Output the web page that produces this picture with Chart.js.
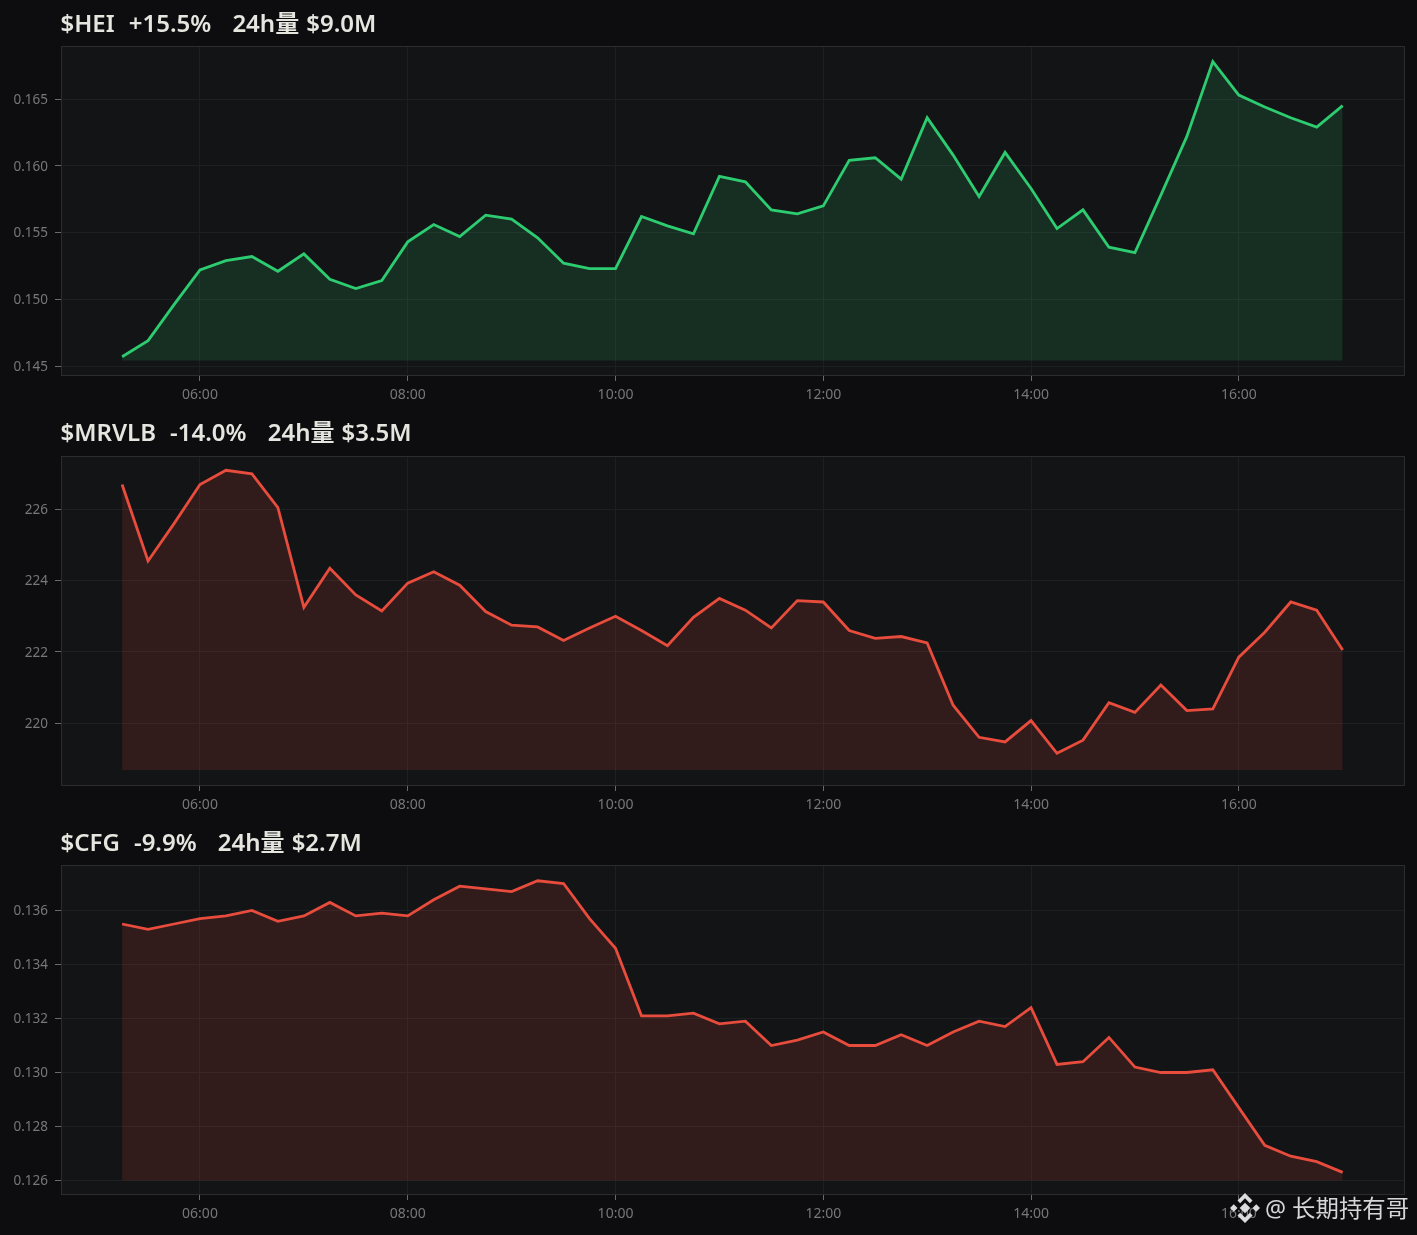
<!DOCTYPE html>
<html>
<head>
<meta charset="utf-8">
<title>24h</title>
<script src="https://cdn.jsdelivr.net/npm/chart.js@4/dist/chart.umd.min.js"></script>
<style>
html, body { margin: 0; padding: 0; background: #0d0d0f; }
body { width: 1417px; height: 1235px; position: relative; overflow: hidden; font-family: "Noto Sans", "Noto Sans CJK SC", sans-serif; }
.box { position: absolute; left: 0; width: 1417px; height: 409px; }
.title { position: absolute; left: 60.500px; color: #e6e6e0; font-size: 24px; font-weight: 600; word-spacing: 0.8px; white-space: pre; line-height: 30px; }
.mark { position: absolute; left: 1230px; top: 1193px; color: #d6d6d6; font-size: 23.400px; line-height: 30px; white-space: pre; display: flex; align-items: center; }
.mark svg { margin-right: 5px; }
</style>
</head>
<body>
<div class="box" style="top:0"><canvas id="c1"></canvas></div>
<div class="box" style="top:410px"><canvas id="c2"></canvas></div>
<div class="box" style="top:819px"><canvas id="c3"></canvas></div>
<div class="title" style="top:8px">$HEI  +15.5%   24h量 $9.0M</div>
<div class="title" style="top:417px">$MRVLB  -14.0%   24h量 $3.5M</div>
<div class="title" style="top:827px">$CFG  -9.9%   24h量 $2.7M</div>
<div class="mark"><svg width="30" height="30" viewBox="0 0 28 28"><g fill="#dcdcdc"><path d="M14 0l7 7-2.500 2.500L14 5 9.500 9.500 7 7z"/><path d="M14 28l7-7-2.500-2.500L14 23l-4.500-4.500L7 21z"/><path d="M0 14l3.500-3.500L7 14l-3.500 3.500z"/><path d="M21 14l3.500-3.500L28 14l-3.500 3.500z"/><path d="M14 9l5 5-5 5-5-5z"/></g></svg>@ 长期持有哥</div>
<script>
var times = ['05:15','05:30','05:45','06:00','06:15','06:30','06:45','07:00','07:15','07:30','07:45','08:00',
    '08:15','08:30','08:45','09:00','09:15','09:30','09:45','10:00','10:15','10:30','10:45','11:00',
    '11:15','11:30','11:45','12:00','12:15','12:30','12:45','13:00','13:15','13:30','13:45','14:00',
    '14:15','14:30','14:45','15:00','15:15','15:30','15:45','16:00','16:15','16:30','16:45','17:00'];

var hei = [.1457,.1469,.1496,.1522,.1529,.1532,.1521,.1534,.1515,.1508,.1514,.1543,
    .1556,.1547,.1563,.1560,.1546,.1527,.1523,.1523,.1562,.1555,.1549,.1592,
    .1588,.1567,.1564,.1570,.1604,.1606,.1590,.1636,.1608,.1577,.1610,.1583,
    .1553,.1567,.1539,.1535,.1578,.1622,.1678,.1653,.1644,.1636,.1629,.1645];

var mrvlb = [226.7,224.55,225.6,226.7,227.1,227.0,226.05,223.25,224.35,223.6,223.15,223.93,
    224.25,223.87,223.13,222.75,222.7,222.32,222.67,223.0,222.6,222.17,222.97,223.5,
    223.17,222.67,223.44,223.4,222.6,222.38,222.43,222.25,220.5,219.6,219.47,220.07,
    219.15,219.52,220.57,220.3,221.07,220.35,220.4,221.85,222.55,223.4,223.17,222.05];

var cfg = [.1355,.1353,.1355,.1357,.1358,.1360,.1356,.1358,.1363,.1358,.1359,.1358,
    .1364,.1369,.1368,.1367,.1371,.1370,.1357,.1346,.1321,.1321,.1322,.1318,
    .1319,.1310,.1312,.1315,.1310,.1310,.1314,.1310,.1315,.1319,.1317,.1324,
    .1303,.1304,.1313,.1302,.1300,.1300,.1301,.1287,.1273,.1269,.1267,.1263];

var xTicks = [6, 8, 10, 12, 14, 16];
var heiTicks = [.145, .150, .155, .160, .165];
var mrvlbTicks = [220, 222, 224, 226];
var cfgTicks = [.126, .128, .130, .132, .134, .136];

var GREEN = '#2ecc71', RED = '#e74c3c';

function toHour(t) {
    var p = t.split(':');
    return +p[0] + p[1] / 60;
}

function hourLabel(v) {
    return (v < 10 ? '0' : '') + v + ':00';
}

var plotFrame = {
    id: 'plotFrame',
    beforeDraw: function (chart) {
        var a = chart.chartArea, c = chart.ctx;
        c.fillStyle = '#131416';
        c.fillRect(a.left, a.top, a.width, a.height);
    },
    afterDraw: function (chart) {
        var a = chart.chartArea, c = chart.ctx;
        c.strokeStyle = '#2c2c2e';
        c.lineWidth = 1;
        c.strokeRect(a.left + 0.5, a.top + 0.5, a.width - 1, a.height);
    }
};

function makeChart(id, values, color, fillColor, ticks, yMin, yMax, base, digits) {
    return new Chart(document.getElementById(id), {
        type: 'line',
        data: {
            datasets: [{
                data: values.map(function (v, i) { return { x: toHour(times[i]), y: v }; }),
                borderColor: color,
                borderWidth: 2.8,
                backgroundColor: fillColor,
                fill: { value: base },
                tension: 0,
                pointRadius: 0
            }]
        },
        options: {
            responsive: false,
            animation: false,
            devicePixelRatio: 1,
            layout: { padding: { top: 46, right: 12, left: 0, bottom: 0 } },
            plugins: { legend: { display: false }, tooltip: { enabled: false } },
            scales: {
                x: {
                    type: 'linear',
                    min: 4.662,
                    max: 17.6,
                    afterBuildTicks: function (s) { s.ticks = xTicks.map(function (v) { return { value: v }; }); },
                    afterFit: function (s) { s.height = 34; },
                    ticks: {
                        color: '#777777',
                        font: { family: 'Noto Sans', size: 14 },
                        padding: 6,
                        maxRotation: 0,
                        autoSkip: false,
                        callback: hourLabel
                    },
                    grid: { color: '#1e1f22', tickColor: '#6a6a6a', tickLength: 6, lineWidth: 1 },
                    border: { display: false }
                },
                y: {
                    min: yMin,
                    max: yMax,
                    afterBuildTicks: function (s) { s.ticks = ticks.map(function (v) { return { value: v }; }); },
                    afterFit: function (s) { s.width = 61; },
                    ticks: {
                        color: '#777777',
                        font: { family: 'Noto Sans', size: 13.500 },
                        padding: 7,
                        labelOffset: 1,
                        autoSkip: false,
                        callback: function (v) { return v.toFixed(digits); }
                    },
                    grid: { color: '#1e1f22', tickColor: '#6a6a6a', tickLength: 6, lineWidth: 1 },
                    border: { display: false }
                }
            }
        },
        plugins: [plotFrame]
    });
}

document.querySelectorAll('canvas').forEach(function (c) { c.width = 1417; c.height = 409; });

makeChart('c1', hei, GREEN, 'rgba(46,204,113,0.145)', heiTicks, 0.14433, 0.16897, 0.14541, 3);
makeChart('c2', mrvlb, RED, 'rgba(231,76,60,0.15)', mrvlbTicks, 218.26, 227.5, 218.68, 0);
makeChart('c3', cfg, RED, 'rgba(231,76,60,0.15)', cfgTicks, 0.1255, 0.137685, 0.126, 3);
</script>
</body>
</html>
